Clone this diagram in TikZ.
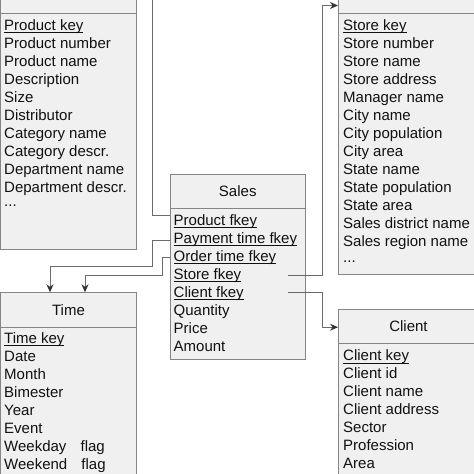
\documentclass[tikz,border=0pt]{standalone}
\usepackage{fontspec}
\setmainfont{Liberation Sans}
\usepackage{xcolor}
\usetikzlibrary{calc}
\usetikzlibrary{arrows.meta}
\definecolor{boxfill}{HTML}{F0F0F0}
\definecolor{boxline}{HTML}{858585}
\definecolor{linkline}{HTML}{6A6A6A}
\definecolor{fieldtext}{HTML}{111111}
\newcommand{\tabfont}{\fontsize{15}{18}\selectfont}
\newcommand{\keyf}[1]{\setbox0=\hbox{#1}\rlap{\rule[-2.8pt]{\wd0}{1pt}}\box0}
\newcommand{\morefields}{...}
\tikzstyle{tablehead} = [draw=boxline, fill=boxfill, line width=1pt,
rectangle, anchor=north west, inner sep=0pt, font=\tabfont, text=fieldtext]
\tikzstyle{tablebody} = [draw=boxline, fill=boxfill, line width=1pt,
rectangle, anchor=north west, inner sep=0pt]
\tikzstyle{field} = [anchor=base west, inner sep=0pt, font=\tabfont, text=fieldtext]
\tikzstyle{link} = [draw=linkline, line width=1pt,
-{Stealth[length=8pt,width=7pt,color=black!80]}]

\begin{document}
\begin{tikzpicture}[x=1pt,y=-1pt]
        \useasboundingbox (0,0) rectangle (474,474);
        % tables
        \node[tablehead, minimum width=136pt, minimum height=35pt] (product-head) at (0,-22) {};
        \node[tablebody, minimum width=136pt, minimum height=236pt] (product-body) at (0,13) {};
        \node[tablehead, minimum width=140pt, minimum height=35pt] (store-head) at (338,-22) {};
        \node[tablebody, minimum width=140pt, minimum height=260.5pt] (store-body) at (338,13) {};
        \node[tablehead, minimum width=135.5pt, minimum height=33.7pt] (sales-head) at (169.5,174) {Sales};
        \node[tablebody, minimum width=135.5pt, minimum height=151.6pt] (sales-body) at (169.5,207.7) {};
        \node[tablehead, minimum width=136pt, minimum height=34.4pt] (time-head) at (0,292.3) {Time};
        \node[tablebody, minimum width=136pt, minimum height=160pt] (time-body) at (0,326.7) {};
        \node[tablehead, minimum width=140pt, minimum height=33.4pt] (client-head) at (338,309.3) {Client};
        \node[tablebody, minimum width=140pt, minimum height=140pt] (client-body) at (338,342.7) {};
        % fields
        \foreach \f [count=\i] in {\keyf{Product key}, Product number, Product name, Description, Size,
            Distributor, Category name, Category descr., Department name, Department descr.,
            \raisebox{4pt}{\morefields}}
            \node[field] (product-\i) at (4,{12+18*\i}) {\f};
        \foreach \f [count=\i] in {\keyf{Store key}, Store number, Store name, Store address, Manager name,
            City name, City population, City area, State name, State population, State area,
            Sales district name, Sales region name, \raisebox{1.5pt}{\morefields}}
            \node[field] (store-\i) at (343,{12+18*\i}) {\f};
        \foreach \f [count=\i] in {\keyf{Product fkey}, \keyf{Payment time fkey}, \keyf{Order time fkey},
            \keyf{Store fkey}, \keyf{Client fkey}, Quantity, Price, Amount}
            \node[field] (sales-\i) at (173.5,{207+18*\i}) {\f};
        \foreach \f [count=\i] in {\keyf{Time key}, Date, Month, Bimester, Year, Event,
            Weekday\hspace{10pt} flag, Weekend\hspace{10pt} flag}
            \node[field] (time-\i) at (4,{325.3+18*\i}) {\f};
        \foreach \f [count=\i] in {\keyf{Client key}, Client id, Client name, Client address, Sector,
            Profession, Area}
            \node[field] (client-\i) at (343,{342.7+18*\i}) {\f};
        % foreign keys
        \draw[link] ($(sales-body.west |- sales-1.base)+(0,-10)$) -- ++(-17.5,0) |- (product-head.east);
        \draw[link] ($(sales-body.west |- sales-2.base)+(0,-2.5)$) -- ++(-17,0) -- ++(0,26)
            -| ($(time-head.north west)+(50,0)$);
        \draw[link] ($(sales-body.west |- sales-3.base)+(0,-4)$) -- ++(-7.5,0) -- ++(0,18)
            -| ($(time-head.north west)+(85,0)$);
        \draw[link] ($(sales-body.east |- sales-4.base)+(-18,-4)$) -- ++(34.5,0)
            |- ($(store-head.west)+(0,9.5)$);
        \draw[link] ($(sales-body.east |- sales-5.base)+(-18,-4.7)$) -- ++(34.5,0)
            |- ($(client-head.west)+(0,0.7)$);
    \end{tikzpicture}
\end{document}
